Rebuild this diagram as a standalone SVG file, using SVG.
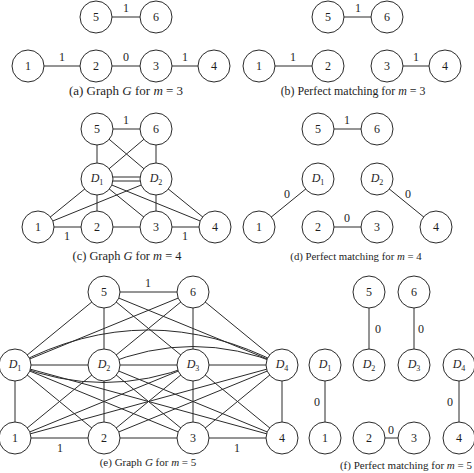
<svg xmlns="http://www.w3.org/2000/svg" width="474" height="473" viewBox="0 0 474 473">
<style>
.e line,.e path{stroke:#2b2b2b;stroke-width:1;fill:none}
.n circle{fill:#fff;stroke:#2b2b2b;stroke-width:1}
text{font-family:"Liberation Serif","DejaVu Serif",serif;fill:#1e1e1e}
.nl{font-size:12px;text-anchor:middle}
.el{font-size:12px;text-anchor:middle}
.cap{text-anchor:middle}
.i{font-style:italic}
.s{font-size:8px}
</style>
<rect width="474" height="473" fill="#fff"/>
<g id="connectors" class="e">
<line x1="96" y1="17" x2="156" y2="17"/>
<line x1="28" y1="66" x2="96" y2="66"/>
<line x1="96" y1="66" x2="156" y2="66"/>
<line x1="156" y1="66" x2="214" y2="66"/>
<line x1="328" y1="17" x2="387" y2="17"/>
<line x1="259" y1="66" x2="328" y2="66"/>
<line x1="387" y1="66" x2="445" y2="66"/>
<line x1="97" y1="129" x2="156" y2="129"/>
<line x1="97" y1="129" x2="97" y2="179"/>
<line x1="156" y1="129" x2="156" y2="179"/>
<line x1="97" y1="129" x2="156" y2="179"/>
<line x1="156" y1="129" x2="97" y2="179"/>
<line x1="97" y1="177" x2="156" y2="177"/>
<line x1="97" y1="181" x2="156" y2="181"/>
<line x1="97" y1="179" x2="38" y2="227"/>
<line x1="97" y1="179" x2="97" y2="227"/>
<line x1="97" y1="179" x2="156" y2="227"/>
<line x1="97" y1="179" x2="215" y2="227"/>
<line x1="156" y1="179" x2="38" y2="227"/>
<line x1="156" y1="179" x2="156" y2="227"/>
<line x1="156" y1="179" x2="215" y2="227"/>
<line x1="38" y1="227" x2="97" y2="227"/>
<line x1="97" y1="227" x2="156" y2="227"/>
<line x1="156" y1="227" x2="215" y2="227"/>
<line x1="318" y1="129" x2="377" y2="129"/>
<line x1="318" y1="179" x2="259" y2="227"/>
<line x1="377" y1="179" x2="436" y2="227"/>
<line x1="318" y1="227" x2="377" y2="227"/>
<line x1="104" y1="292" x2="193" y2="292"/>
<line x1="104" y1="292" x2="15" y2="365"/>
<line x1="104" y1="292" x2="104" y2="365"/>
<line x1="104" y1="292" x2="193" y2="365"/>
<line x1="104" y1="292" x2="282" y2="365"/>
<line x1="193" y1="292" x2="15" y2="365"/>
<line x1="193" y1="292" x2="104" y2="365"/>
<line x1="193" y1="292" x2="193" y2="365"/>
<line x1="193" y1="292" x2="282" y2="365"/>
<line x1="15" y1="365" x2="282" y2="365"/>
<path d="M15,365 Q148,295 282,365"/>
<path d="M104,365 Q193,328 282,365"/>
<path d="M15,365 Q104,400 193,365"/>
<line x1="15" y1="365" x2="15" y2="438"/>
<line x1="15" y1="365" x2="104" y2="438"/>
<line x1="15" y1="365" x2="193" y2="438"/>
<line x1="15" y1="365" x2="282" y2="438"/>
<line x1="104" y1="365" x2="15" y2="438"/>
<line x1="104" y1="365" x2="104" y2="438"/>
<line x1="104" y1="365" x2="193" y2="438"/>
<line x1="104" y1="365" x2="282" y2="438"/>
<line x1="193" y1="365" x2="15" y2="438"/>
<line x1="193" y1="365" x2="104" y2="438"/>
<line x1="193" y1="365" x2="193" y2="438"/>
<line x1="193" y1="365" x2="282" y2="438"/>
<line x1="282" y1="365" x2="15" y2="438"/>
<line x1="282" y1="365" x2="104" y2="438"/>
<line x1="282" y1="365" x2="193" y2="438"/>
<line x1="282" y1="365" x2="282" y2="438"/>
<line x1="15" y1="438" x2="282" y2="438"/>
<line x1="369" y1="292" x2="369" y2="365"/>
<line x1="414" y1="292" x2="414" y2="365"/>
<line x1="325" y1="365" x2="325" y2="438"/>
<line x1="459" y1="365" x2="459" y2="438"/>
<line x1="369" y1="438" x2="414" y2="438"/>
</g>
<g id="edge-labels">
<text class="el" x="126" y="12">1</text>
<text class="el" x="62" y="61">1</text>
<text class="el" x="126" y="61">0</text>
<text class="el" x="185" y="61">1</text>
<text class="el" x="358" y="12">1</text>
<text class="el" x="293" y="61">1</text>
<text class="el" x="416" y="61">1</text>
<text class="el" x="126" y="124">1</text>
<text class="el" x="67" y="240">1</text>
<text class="el" x="185" y="240">1</text>
<text class="el" x="347" y="124">1</text>
<text class="el" x="287" y="198">0</text>
<text class="el" x="408" y="198">0</text>
<text class="el" x="347" y="222">0</text>
<text class="el" x="148" y="287">1</text>
<text class="el" x="60" y="452">1</text>
<text class="el" x="237" y="452">1</text>
<text class="el" x="378" y="333">0</text>
<text class="el" x="421" y="333">0</text>
<text class="el" x="317" y="406">0</text>
<text class="el" x="450" y="406">0</text>
<text class="el" x="391" y="434">0</text>
</g>
<g id="a5" class="n"><circle cx="96" cy="17" r="16"/><text class="nl" x="96" y="21">5</text></g>
<g id="a6" class="n"><circle cx="156" cy="17" r="16"/><text class="nl" x="156" y="21">6</text></g>
<g id="a1" class="n"><circle cx="28" cy="66" r="16"/><text class="nl" x="28" y="70">1</text></g>
<g id="a2" class="n"><circle cx="96" cy="66" r="16"/><text class="nl" x="96" y="70">2</text></g>
<g id="a3" class="n"><circle cx="156" cy="66" r="16"/><text class="nl" x="156" y="70">3</text></g>
<g id="a4" class="n"><circle cx="214" cy="66" r="16"/><text class="nl" x="214" y="70">4</text></g>
<g id="b5" class="n"><circle cx="328" cy="17" r="16"/><text class="nl" x="328" y="21">5</text></g>
<g id="b6" class="n"><circle cx="387" cy="17" r="16"/><text class="nl" x="387" y="21">6</text></g>
<g id="b1" class="n"><circle cx="259" cy="66" r="16"/><text class="nl" x="259" y="70">1</text></g>
<g id="b2" class="n"><circle cx="328" cy="66" r="16"/><text class="nl" x="328" y="70">2</text></g>
<g id="b3" class="n"><circle cx="387" cy="66" r="16"/><text class="nl" x="387" y="70">3</text></g>
<g id="b4" class="n"><circle cx="445" cy="66" r="16"/><text class="nl" x="445" y="70">4</text></g>
<g id="c5" class="n"><circle cx="97" cy="129" r="16"/><text class="nl" x="97" y="133">5</text></g>
<g id="c6" class="n"><circle cx="156" cy="129" r="16"/><text class="nl" x="156" y="133">6</text></g>
<g id="cD1" class="n"><circle cx="97" cy="179" r="16"/><text class="nl" x="97" y="182"><tspan class="i">D</tspan><tspan class="s" dy="3">1</tspan></text></g>
<g id="cD2" class="n"><circle cx="156" cy="179" r="16"/><text class="nl" x="156" y="182"><tspan class="i">D</tspan><tspan class="s" dy="3">2</tspan></text></g>
<g id="c1" class="n"><circle cx="38" cy="227" r="16"/><text class="nl" x="38" y="231">1</text></g>
<g id="c2" class="n"><circle cx="97" cy="227" r="16"/><text class="nl" x="97" y="231">2</text></g>
<g id="c3" class="n"><circle cx="156" cy="227" r="16"/><text class="nl" x="156" y="231">3</text></g>
<g id="c4" class="n"><circle cx="215" cy="227" r="16"/><text class="nl" x="215" y="231">4</text></g>
<g id="d5" class="n"><circle cx="318" cy="129" r="16"/><text class="nl" x="318" y="133">5</text></g>
<g id="d6" class="n"><circle cx="377" cy="129" r="16"/><text class="nl" x="377" y="133">6</text></g>
<g id="dD1" class="n"><circle cx="318" cy="179" r="16"/><text class="nl" x="318" y="182"><tspan class="i">D</tspan><tspan class="s" dy="3">1</tspan></text></g>
<g id="dD2" class="n"><circle cx="377" cy="179" r="16"/><text class="nl" x="377" y="182"><tspan class="i">D</tspan><tspan class="s" dy="3">2</tspan></text></g>
<g id="d1" class="n"><circle cx="259" cy="227" r="16"/><text class="nl" x="259" y="231">1</text></g>
<g id="d2" class="n"><circle cx="318" cy="227" r="16"/><text class="nl" x="318" y="231">2</text></g>
<g id="d3" class="n"><circle cx="377" cy="227" r="16"/><text class="nl" x="377" y="231">3</text></g>
<g id="d4" class="n"><circle cx="436" cy="227" r="16"/><text class="nl" x="436" y="231">4</text></g>
<g id="e5" class="n"><circle cx="104" cy="292" r="16"/><text class="nl" x="104" y="296">5</text></g>
<g id="e6" class="n"><circle cx="193" cy="292" r="16"/><text class="nl" x="193" y="296">6</text></g>
<g id="eD1" class="n"><circle cx="15" cy="365" r="16"/><text class="nl" x="15" y="368"><tspan class="i">D</tspan><tspan class="s" dy="3">1</tspan></text></g>
<g id="eD2" class="n"><circle cx="104" cy="365" r="16"/><text class="nl" x="104" y="368"><tspan class="i">D</tspan><tspan class="s" dy="3">2</tspan></text></g>
<g id="eD3" class="n"><circle cx="193" cy="365" r="16"/><text class="nl" x="193" y="368"><tspan class="i">D</tspan><tspan class="s" dy="3">3</tspan></text></g>
<g id="eD4" class="n"><circle cx="282" cy="365" r="16"/><text class="nl" x="282" y="368"><tspan class="i">D</tspan><tspan class="s" dy="3">4</tspan></text></g>
<g id="e1" class="n"><circle cx="15" cy="438" r="16"/><text class="nl" x="15" y="442">1</text></g>
<g id="e2" class="n"><circle cx="104" cy="438" r="16"/><text class="nl" x="104" y="442">2</text></g>
<g id="e3" class="n"><circle cx="193" cy="438" r="16"/><text class="nl" x="193" y="442">3</text></g>
<g id="e4" class="n"><circle cx="282" cy="438" r="16"/><text class="nl" x="282" y="442">4</text></g>
<g id="f5" class="n"><circle cx="369" cy="292" r="16"/><text class="nl" x="369" y="296">5</text></g>
<g id="f6" class="n"><circle cx="414" cy="292" r="16"/><text class="nl" x="414" y="296">6</text></g>
<g id="fD1" class="n"><circle cx="325" cy="365" r="16"/><text class="nl" x="325" y="368"><tspan class="i">D</tspan><tspan class="s" dy="3">1</tspan></text></g>
<g id="fD2" class="n"><circle cx="369" cy="365" r="16"/><text class="nl" x="369" y="368"><tspan class="i">D</tspan><tspan class="s" dy="3">2</tspan></text></g>
<g id="fD3" class="n"><circle cx="414" cy="365" r="16"/><text class="nl" x="414" y="368"><tspan class="i">D</tspan><tspan class="s" dy="3">3</tspan></text></g>
<g id="fD4" class="n"><circle cx="459" cy="365" r="16"/><text class="nl" x="459" y="368"><tspan class="i">D</tspan><tspan class="s" dy="3">4</tspan></text></g>
<g id="f1" class="n"><circle cx="325" cy="438" r="16"/><text class="nl" x="325" y="442">1</text></g>
<g id="f2" class="n"><circle cx="369" cy="438" r="16"/><text class="nl" x="369" y="442">2</text></g>
<g id="f3" class="n"><circle cx="414" cy="438" r="16"/><text class="nl" x="414" y="442">3</text></g>
<g id="f4" class="n"><circle cx="459" cy="438" r="16"/><text class="nl" x="459" y="442">4</text></g>
<g id="captions">
<text class="cap" x="126" y="95" style="font-size:13px">(a) Graph <tspan class="i">G</tspan> for <tspan class="i">m</tspan> = 3</text>
<text class="cap" x="353" y="95" style="font-size:11.9px">(b) Perfect matching for <tspan class="i">m</tspan> = 3</text>
<text class="cap" x="127" y="260" style="font-size:12.4px">(c) Graph <tspan class="i">G</tspan> for <tspan class="i">m</tspan> = 4</text>
<text class="cap" x="356" y="260" style="font-size:10.8px">(d) Perfect matching for <tspan class="i">m</tspan> = 4</text>
<text class="cap" x="148" y="466" style="font-size:11px">(e) Graph <tspan class="i">G</tspan> for <tspan class="i">m</tspan> = 5</text>
<text class="cap" x="406" y="469" style="font-size:11px">(f) Perfect matching for <tspan class="i">m</tspan> = 5</text>
</g>
</svg>
